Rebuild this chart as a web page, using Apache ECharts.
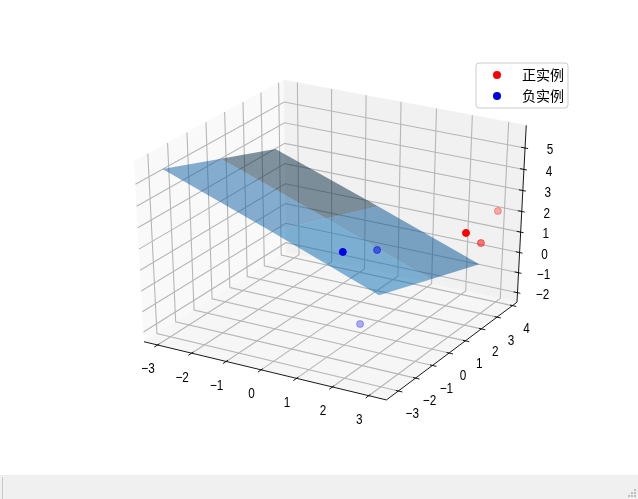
<!DOCTYPE html>
<html>
<head>
<meta charset="utf-8">
<style>html,body{margin:0;padding:0;background:#fff;overflow:hidden}#c{width:638px;height:499px}</style>
<script src="https://cdn.jsdelivr.net/npm/echarts@6/dist/echarts.min.js"></script>
</head>
<body>
<div id="c"></div>
<script>
// ---- data ----
const xTicks = [-3, -2, -1, 0, 1, 2, 3];
const yTicks = [-3, -2, -1, 0, 1, 2, 3, 4];
const zTicks = [-2, -1, 0, 1, 2, 3, 4, 5];
const xRange = [-3.40, 3.48];
const yRange = [-3.68, 4.30];
const zRange = [-2.48, 6.05];
const planeX = [-3, 0, 2.92];
const planeY = [-3, 0, 3];
const planeZ = [
  [5.49, 4.48, 3.48],
  [3.68, 2.70, 1.72],
  [1.83, 0.88, -0.07]
];
const positivePoints = [[2.85, 2.23, 1.84], [2.97, 2.93, 1.02], [2.95, 3.99, 2.00]];
const negativePoints = [[1.27, -1.64, 2.46], [1.14, 0.59, 1.29], [1.07, -0.22, -1.88]];
const positiveName = '正实例';
const negativeName = '负实例';

// ---- camera: elev 30, azim -60, dist 10 ----
const U = [0.8660254, 0.5, 0], V = [-0.25, 0.4330127, 0.8660254], W = [0.4330127, -0.75, 0.5];
const dot = (a, b) => a[0] * b[0] + a[1] * b[1] + a[2] * b[2];
const norm = (p) => [
  (p[0] - xRange[0]) / (xRange[1] - xRange[0]) - 0.5,
  (p[1] - yRange[0]) / (yRange[1] - yRange[0]) - 0.5,
  (p[2] - zRange[0]) / (zRange[1] - zRange[0]) - 0.5
];
const project = (p) => {
  const n = norm(p), d = 10 - dot(n, W);
  return [dot(n, U) / d, dot(n, V) / d];
};
const depthAlpha = (pts) => {
  const c = pts.map((p) => dot(norm(p), W));
  const lo = Math.min(...c), hi = Math.max(...c);
  return c.map((v) => 0.3 + 0.7 * (v - lo) / (hi - lo));
};

const [x0, x1] = xRange, [y0, y1] = yRange, [z0, z1] = zRange;
const dx = x1 - x0, dy = y1 - y0;

const panes = [
  { pts: [[x0, y0, z0], [x0, y1, z0], [x0, y1, z1], [x0, y0, z1]], fill: '#f9f9f9' },
  { pts: [[x0, y1, z0], [x1, y1, z0], [x1, y1, z1], [x0, y1, z1]], fill: '#f1f1f1' },
  { pts: [[x0, y0, z0], [x1, y0, z0], [x1, y1, z0], [x0, y1, z0]], fill: '#f6f6f6' }
];
const gridPaths = [];
xTicks.forEach((t) => gridPaths.push([[t, y0, z0], [t, y1, z0], [t, y1, z1]]));
yTicks.forEach((t) => gridPaths.push([[x1, t, z0], [x0, t, z0], [x0, t, z1]]));
zTicks.forEach((t) => gridPaths.push([[x0, y0, t], [x0, y1, t], [x1, y1, t]]));

const axisPaths = [
  [[x0, y0, z0], [x1, y0, z0]],
  [[x1, y0, z0], [x1, y1, z0]],
  [[x1, y1, z0], [x1, y1, z1]]
];
xTicks.forEach((t) => axisPaths.push([[t, y0 - 0.022 * dy, z0], [t, y0 + 0.012 * dy, z0]]));
yTicks.forEach((t) => axisPaths.push([[x1 - 0.01 * dx, t, z0], [x1 + 0.016 * dx, t, z0]]));
zTicks.forEach((t) => axisPaths.push([[x1 - 0.016 * dx, y1, t], [x1 + 0.012 * dx, y1, t]]));

const quadFill = [
  ['rgb(15,95,165)', 'rgb(5,42,65)'],
  ['rgb(8,108,178)', 'rgb(0,80,145)']
];
const quads = [];
for (let i = 0; i < 2; i++) for (let j = 0; j < 2; j++) {
  quads.push({
    pts: [
      [planeX[i], planeY[j], planeZ[i][j]],
      [planeX[i + 1], planeY[j], planeZ[i + 1][j]],
      [planeX[i + 1], planeY[j + 1], planeZ[i + 1][j + 1]],
      [planeX[i], planeY[j + 1], planeZ[i][j + 1]]
    ],
    fill: quadFill[i][j]
  });
}

const labels = [];
const minus = (t) => String(t).replace('-', '\u2212');
xTicks.forEach((t) => labels.push({ at: [t, y0, z0], ox: -9.5, oy: 24.5, text: minus(t) }));
yTicks.forEach((t) => labels.push({ at: [x1, t, z0], ox: 14, oy: 23.5, text: minus(t) }));
zTicks.forEach((t) => labels.push({ at: [x1, y1, t], ox: 25, oy: 2.5, text: minus(t) }));

const toCoords = (api, pts) => pts.map((p) => api.coord(project(p)));
const indexData = (a) => a.map((_, i) => [i]);

const paneSeries = {
  type: 'custom', silent: true, clip: false, animation: false, z: 1, data: indexData(panes),
  renderItem: (params, api) => ({
    type: 'polygon',
    shape: { points: toCoords(api, panes[params.dataIndex].pts) },
    style: { fill: panes[params.dataIndex].fill, stroke: panes[params.dataIndex].fill, lineWidth: 0.5 }
  })
};
const pathSeries = (list, stroke, width, z) => ({
  type: 'custom', silent: true, clip: false, animation: false, z, data: indexData(list),
  renderItem: (params, api) => ({
    type: 'polyline',
    shape: { points: toCoords(api, list[params.dataIndex]) },
    style: { fill: null, stroke, lineWidth: width }
  })
});
const quadSeries = {
  type: 'custom', silent: true, clip: false, animation: false, z: 4, data: indexData(quads),
  renderItem: (params, api) => ({
    type: 'polygon',
    shape: { points: toCoords(api, quads[params.dataIndex].pts) },
    style: { fill: quads[params.dataIndex].fill, opacity: 0.5 }
  })
};
const labelSeries = {
  type: 'custom', silent: true, clip: false, animation: false, z: 3, data: indexData(labels),
  renderItem: (params, api) => {
    const l = labels[params.dataIndex];
    const c = api.coord(project(l.at));
    return {
      type: 'text',
      x: c[0] + l.ox, y: c[1] + l.oy, scaleX: 0.84,
      style: {
        text: l.text, x: 0, y: 0, fill: '#000',
        align: 'center', verticalAlign: 'middle',
        font: '14px "Liberation Sans", sans-serif'
      }
    };
  }
};
const scatterSeries = (name, pts, color) => {
  const alpha = depthAlpha(pts);
  return {
    name, type: 'scatter', symbol: 'circle', symbolSize: 7, z: 5, clip: false, animation: false, silent: true,
    itemStyle: { color, borderColor: color, borderWidth: 1 },
    data: pts.map((p, i) => ({ value: project(p), itemStyle: { opacity: alpha[i] } }))
  };
};

const grip = [[634, 489], [631, 492], [634, 492], [628, 495], [631, 495], [634, 495]];

const chart = echarts.init(document.getElementById('c'), null, { width: 638, height: 499 });
chart.setOption({
  animation: false,
  backgroundColor: '#fff',
  grid: { left: 0, right: 0, top: 0, bottom: 0 },
  xAxis: { type: 'value', min: -0.11915, max: 0.10887, show: false },
  yAxis: { type: 'value', min: -0.12821, max: 0.11367, show: false },
  tooltip: { show: false },
  legend: {
    orient: 'vertical', left: 476, top: 63,
    backgroundColor: '#fff', borderColor: '#cccccc', borderWidth: 1, borderRadius: 3,
    padding: [5, 4, 5, 17], itemGap: 7, itemWidth: 20, itemHeight: 8, icon: 'circle',
    itemStyle: { opacity: 1, borderWidth: 0 },
    textStyle: { fontFamily: '"Noto Sans CJK SC"', fontSize: 14, color: '#000', padding: [0, 0, 0, 10] },
    selectedMode: false,
    data: [positiveName, negativeName]
  },
  series: [
    paneSeries,
    pathSeries(gridPaths, '#b6b6b6', 1.1, 2),
    pathSeries(axisPaths, '#000', 0.9, 3),
    labelSeries,
    quadSeries,
    scatterSeries(positiveName, positivePoints, '#ff0000'),
    scatterSeries(negativeName, negativePoints, '#0000e6')
  ],
  graphic: [
    { type: 'rect', silent: true, z: 0, shape: { x: 0, y: 475, width: 638, height: 24 }, style: { fill: '#f0f0f0' } },
    { type: 'rect', silent: true, z: 0, shape: { x: 0, y: 475, width: 638, height: 1 }, style: { fill: '#ececec' } },
    { type: 'rect', silent: true, z: 0, shape: { x: 2, y: 477, width: 1, height: 22 }, style: { fill: '#c8c8c8' } }
  ].concat(grip.map((g) => ({
    type: 'rect', silent: true, z: 0, shape: { x: g[0], y: g[1], width: 2, height: 2 }, style: { fill: '#bdbdbd' }
  })))
});
</script>
</body>
</html>
